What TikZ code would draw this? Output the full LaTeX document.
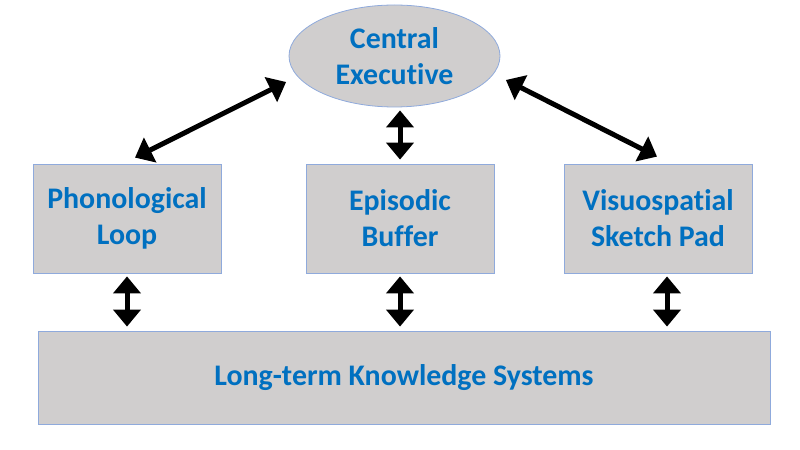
\documentclass[tikz,border=0pt]{standalone}
\usepackage{fontspec}
\setmainfont[Ligatures={NoCommon,NoContextual},RawFeature={-liga;-clig;-dlig}]{Carlito}
\usetikzlibrary{shapes.geometric,arrows.meta,calc}
\definecolor{txtblue}{HTML}{0070C0}
\definecolor{boxfill}{HTML}{D0CECE}
\definecolor{boxline}{HTML}{8FAADC}
\begin{document}
\begin{tikzpicture}[x=1bp,y=-1bp,
  lbl/.style={text=txtblue,font=\fontsize{30}{36}\selectfont\bfseries,align=center},
  box/.style={lbl,draw=boxline,fill=boxfill,line width=0.8bp,inner sep=0pt},
  oval/.style={box,ellipse},
  dbl/.style={line width=5bp,{Triangle[length=17bp,width=27bp]}-{Triangle[length=17bp,width=27bp]}}]
\useasboundingbox (0,0) rectangle (800,450);
\node[oval,minimum width=211bp,minimum height=102bp] (ce) at (394.5,56) {Central\\Executive};
\node[box,minimum width=188bp,minimum height=109bp] (pl) at (127,218.5) {Phonological\\Loop};
\node[box,minimum width=188bp,minimum height=109bp] (eb) at (400,218.5) {Episodic\\Buffer};
\node[box,minimum width=188bp,minimum height=109bp] (vs) at (658,218.5) {Visuospatial\\Sketch Pad};
\node[box,minimum width=732bp,minimum height=93bp] (lt) at (404,377.5) {Long-term Knowledge Systems};
% diagonal arrows
\draw[dbl] ([xshift=8bp,yshift=6bp]pl.north) -- ([xshift=-2.5bp,yshift=-26bp]ce.west);
\draw[dbl] ([xshift=5.5bp,yshift=-24bp]ce.east) -- ([xshift=-1bp,yshift=7bp]vs.north);
% vertical arrow to central executive
\draw[dbl] ([yshift=-3bp]eb.north |- ce.south) -- ([yshift=4bp]eb.north);
% arrows to long-term
\draw[dbl] ([yshift=-3bp]pl.south) -- ([yshift=4bp]pl.south |- lt.north);
\draw[dbl] ([yshift=-3bp]eb.south) -- ([yshift=4bp]eb.south |- lt.north);
\draw[dbl] ([yshift=-3bp,xshift=9bp]vs.south) -- ([yshift=4bp,xshift=9bp]vs.south |- lt.north);
\end{tikzpicture}
\end{document}
